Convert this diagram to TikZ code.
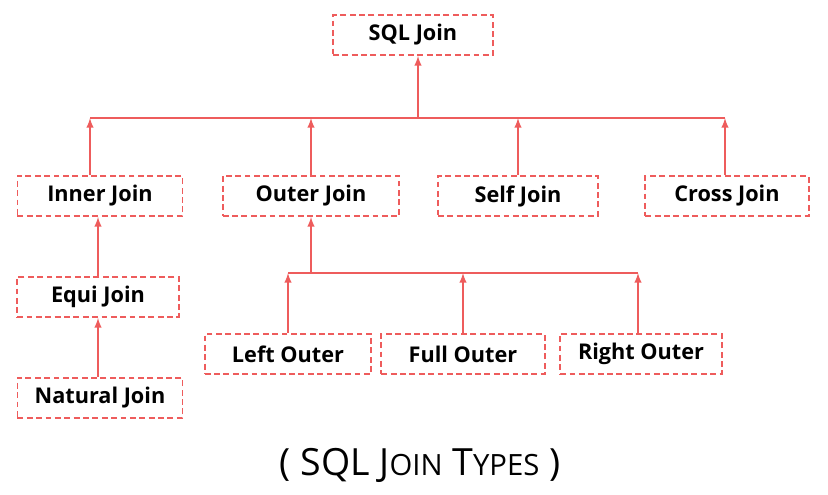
\documentclass[tikz,border=0pt]{standalone}
\usepackage{fontspec}
\setmainfont{Open Sans}
\definecolor{joinred}{RGB}{238,92,92}
\usetikzlibrary{positioning, arrows}
\tikzset{
>=latex, % arrow heads
joinbox/.style={draw=joinred, dash pattern=on 5pt off 3pt, line width=1.6pt, font=\fontsize{18.5}{20}\selectfont\bfseries, minimum height=1.2cm, inner xsep=8pt},
link/.style={joinred, line width=1.8pt, arrows={-latex[scale=1.4]}},
}

\begin{document}
\begin{tikzpicture}[x=0.03cm, y=-0.03cm]
        \useasboundingbox (0,0) rectangle (828,494);
        \node[joinbox, minimum width=4.8cm] (sql) at (413,35) {SQL Join};
        \node[joinbox, minimum width=4.95cm] (inner) at (100,196) {Inner Join};
        \node[joinbox, minimum width=5.3cm] (outer) at (311,196) {Outer Join};
        \node[joinbox, minimum width=4.8cm] (self) at (518,196) {Self Join};
        \node[joinbox, minimum width=4.9cm] (cross) at (727,196) {Cross Join};
        \node[joinbox, minimum width=4.85cm] (equi) at (98,297) {Equi Join};
        \node[joinbox, minimum width=4.95cm] (natural) at (100,398) {Natural Join};
        \node[joinbox, minimum width=5cm] (left) at (288,354) {Left Outer};
        \node[joinbox, minimum width=4.9cm] (full) at (463,354) {Full Outer};
        \node[joinbox, minimum width=4.85cm] (right) at (641,354) {Right Outer};

        % top level
        \coordinate (bar1) at (90,118);
        \coordinate (bar2) at (725,118);
        \coordinate (top) at (418,118);
        \draw[link, -] (bar1) -- (bar2);
        \draw[link] (top) -- (sql.south -| top);
        \draw[link] (inner.north -| bar1) -- (bar1);
        \draw[link] (outer.north) -- (outer.north |- bar1);
        \draw[link] (self.north) -- (self.north |- bar1);
        \draw[link] (cross.north -| bar2) -- (bar2);

        % inner chain
        \draw[link] (equi.north) -- (inner.south -| equi.north);
        \draw[link] (natural.north -| equi.north) -- (equi.south);

        % outer chain
        \coordinate (bar3) at (288,273);
        \coordinate (bar4) at (638,273);
        \draw[link, -] (bar3) -- (bar4);
        \draw[link] (outer.south |- bar3) -- (outer.south);
        \draw[link] (left.north -| bar3) -- (bar3);
        \draw[link] (full.north) -- (full.north |- bar3);
        \draw[link] (right.north -| bar4) -- (bar4);

        \node[font=\fontsize{32}{36}\selectfont] (title) at (420,465)
          {( SQL J{\fontsize{25}{28}\selectfont OIN} T{\fontsize{25}{28}\selectfont YPES} )};
      \end{tikzpicture}
\end{document}
